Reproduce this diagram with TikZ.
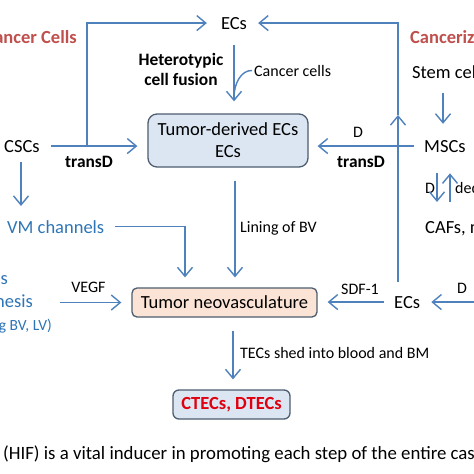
\documentclass[tikz,border=0pt]{standalone}
\usepackage{fontspec}
\setmainfont{Carlito}
\usetikzlibrary{arrows.meta}
\definecolor{arrblue}{HTML}{4F81BD}
\definecolor{txtblue}{HTML}{2E75B6}
\definecolor{titlered}{HTML}{C0504D}
\definecolor{ctred}{HTML}{E0000F}
\definecolor{boxblue}{HTML}{DCE6F2}
\definecolor{boxorange}{HTML}{FBE4D5}
\definecolor{bordergray}{HTML}{4E5D6F}
\begin{document}
\begin{tikzpicture}[x=1pt,y=-1pt,
  arr/.style={draw=arrblue, line width=1.4pt, -{Straight Barb[length=9pt,width=15pt]}},
  plain/.style={draw=arrblue, line width=1.4pt},
  main/.style={inner sep=0pt, font=\fontsize{18.5}{22}\selectfont},
  lbl/.style={inner sep=0pt, font=\fontsize{16}{19}\selectfont},
  boldlbl/.style={inner sep=0pt, font=\fontsize{17.4}{20}\selectfont\bfseries},
  titletxt/.style={inner sep=0pt, text=titlered, font=\fontsize{18.5}{22}\selectfont\bfseries},
  bluetxt/.style={inner sep=0pt, text=txtblue, font=\fontsize{18.5}{22}\selectfont},
  bluebox/.style={draw=bordergray, fill=boxblue, line width=1.3pt, rounded corners=9pt, align=center, inner sep=0pt},
  orangebox/.style={draw=bordergray, fill=boxorange, line width=1.3pt, rounded corners=5pt, inner sep=0pt},
]
\useasboundingbox (0,0) rectangle (474,474);
\clip (0,0) rectangle (474,474);
\fill[white] (0,0) rectangle (474,474);

% nodes
\node[main, anchor=base] (ecstop) at (234,29) {ECs};
\node[titletxt, anchor=base east] (cc) at (77,43) {Cancer Cells};
\node[titletxt, anchor=base west] (cz) at (410,43) {Cancerization};
\node[boldlbl, anchor=base] (het) at (181,65) {Heterotypic};
\node[boldlbl, anchor=base] (fus) at (181,85) {cell fusion};
\node[lbl, anchor=base west] (ccells) at (254,76) {Cancer cells};
\node[main, anchor=base west] (stem) at (412,78) {Stem cells};
\node[bluebox, main, minimum width=160pt, minimum height=53pt] (tdec) at (228,140.5) {Tumor-derived ECs\\ECs};
\node[main, anchor=base west] (cscs) at (4,152) {CSCs};
\node[boldlbl, anchor=base] (tdl) at (89,167) {transD};
\node[main, anchor=base west] (msc) at (424,152) {MSCs};
\node[lbl, anchor=base] (dtop) at (358,137) {D};
\node[boldlbl, anchor=base] (tdr) at (361,167) {transD};
\node[lbl, anchor=base west] (dd) at (425,193) {D};
\node[lbl, anchor=base west] (de) at (455,193) {dedifferentiation};
\node[bluetxt, anchor=base west] (vm) at (7,233) {VM channels};
\node[lbl, anchor=base west] (lining) at (240,232) {Lining of BV};
\node[main, anchor=base west] (caf) at (425,233) {CAFs, myofibroblasts};
\node[bluetxt, anchor=base east] (l1) at (8,284) {Other cells};
\node[bluetxt, anchor=base east] (l2) at (33,307) {Angiogenesis};
\node[bluetxt, anchor=base east, font=\fontsize{15.5}{18}\selectfont] (l3) at (52,330) {(including BV, LV)};
\node[lbl, anchor=base] (vegf) at (88.5,292) {VEGF};
\node[lbl, anchor=base] (sdf) at (360,294) {SDF-1};
\node[lbl, anchor=base] (dbr) at (462,293) {D};
\node[main, anchor=base west] (ecsbr) at (394,308) {ECs};
\node[orangebox, main, minimum width=185pt, minimum height=29pt] (neo) at (224.5,302.5) {Tumor neovasculature};
\node[lbl, anchor=base west] (tecs) at (240,358) {TECs shed into blood and BM};
\node[bluebox, rounded corners=6pt, minimum width=117pt, minimum height=29pt, text=ctred, font=\fontsize{18.5}{22}\selectfont\bfseries] (ctec) at (231.5,404.5) {CTECs, DTECs};
\node[inner sep=0pt, font=\fontsize{18.8}{22}\selectfont, anchor=base west] (bottom) at (3,459) {(HIF) is a vital inducer in promoting each step of the entire cascade};

% helper coordinates
\coordinate (brx) at (87,0);
\coordinate (rl) at (398,282);
\coordinate (rmid) at (398,115);
\coordinate (sx) at (443,0);
\coordinate (dx) at (437,0);
\coordinate (ux) at (450,0);
\coordinate (redge) at (476,0);
\coordinate (vx) at (60,0);
\coordinate (cx) at (21,0);
\coordinate (vmx) at (185,0);
\coordinate (lx) at (235,0);
\coordinate (tx) at (233,0);
\coordinate (merge) at (234,97);

% connectors
\draw[arr, shorten <=11pt, shorten >=10pt] (cscs.east) -- (cscs.east -| tdec.west);
\draw[arr, shorten >=14pt] (cscs.east -| brx) |- (ecstop.west);
\draw[arr, shorten <=16pt, shorten >=12pt] (ecstop.south) -- (ecstop.south |- tdec.north);
\draw[plain] ([xshift=-2pt]ccells.west) .. controls (241,70) and (234,84) .. (merge);
\draw[arr, shorten <=10pt, shorten >=9pt] (msc.west) -- (msc.west -| tdec.east);
\draw[arr] (rl) -- (rmid);
\draw[arr, shorten >=11pt] (rmid) |- (ecstop.east);
\draw[arr, shorten <=15pt, shorten >=16pt] (stem.south -| sx) -- (msc.north -| sx);
\draw[arr, shorten <=21pt, shorten >=18pt] (msc.south -| dx) -- (caf.north -| dx);
\draw[arr, shorten <=18pt, shorten >=21pt] (caf.north -| ux) -- (msc.south -| ux);
\draw[arr, shorten >=11pt] (ecsbr.east -| redge) -- (ecsbr.east);
\draw[arr, shorten <=10pt, shorten >=10pt] (ecsbr.west) -- (ecsbr.west -| neo.east);
\draw[arr, shorten >=10pt] (neo.west -| vx) -- (neo.west);
\draw[arr, shorten <=10pt, shorten >=14pt] (cscs.south -| cx) -- (vm.north -| cx);
\draw[arr, shorten <=11pt, shorten >=10pt] (vm.east) -| (neo.north -| vmx);
\draw[arr, shorten <=13pt, shorten >=10pt] (tdec.south -| lx) -- (neo.north -| lx);
\draw[arr, shorten <=13pt, shorten >=10pt] (neo.south -| tx) -- (ctec.north -| tx);
\end{tikzpicture}
\end{document}
